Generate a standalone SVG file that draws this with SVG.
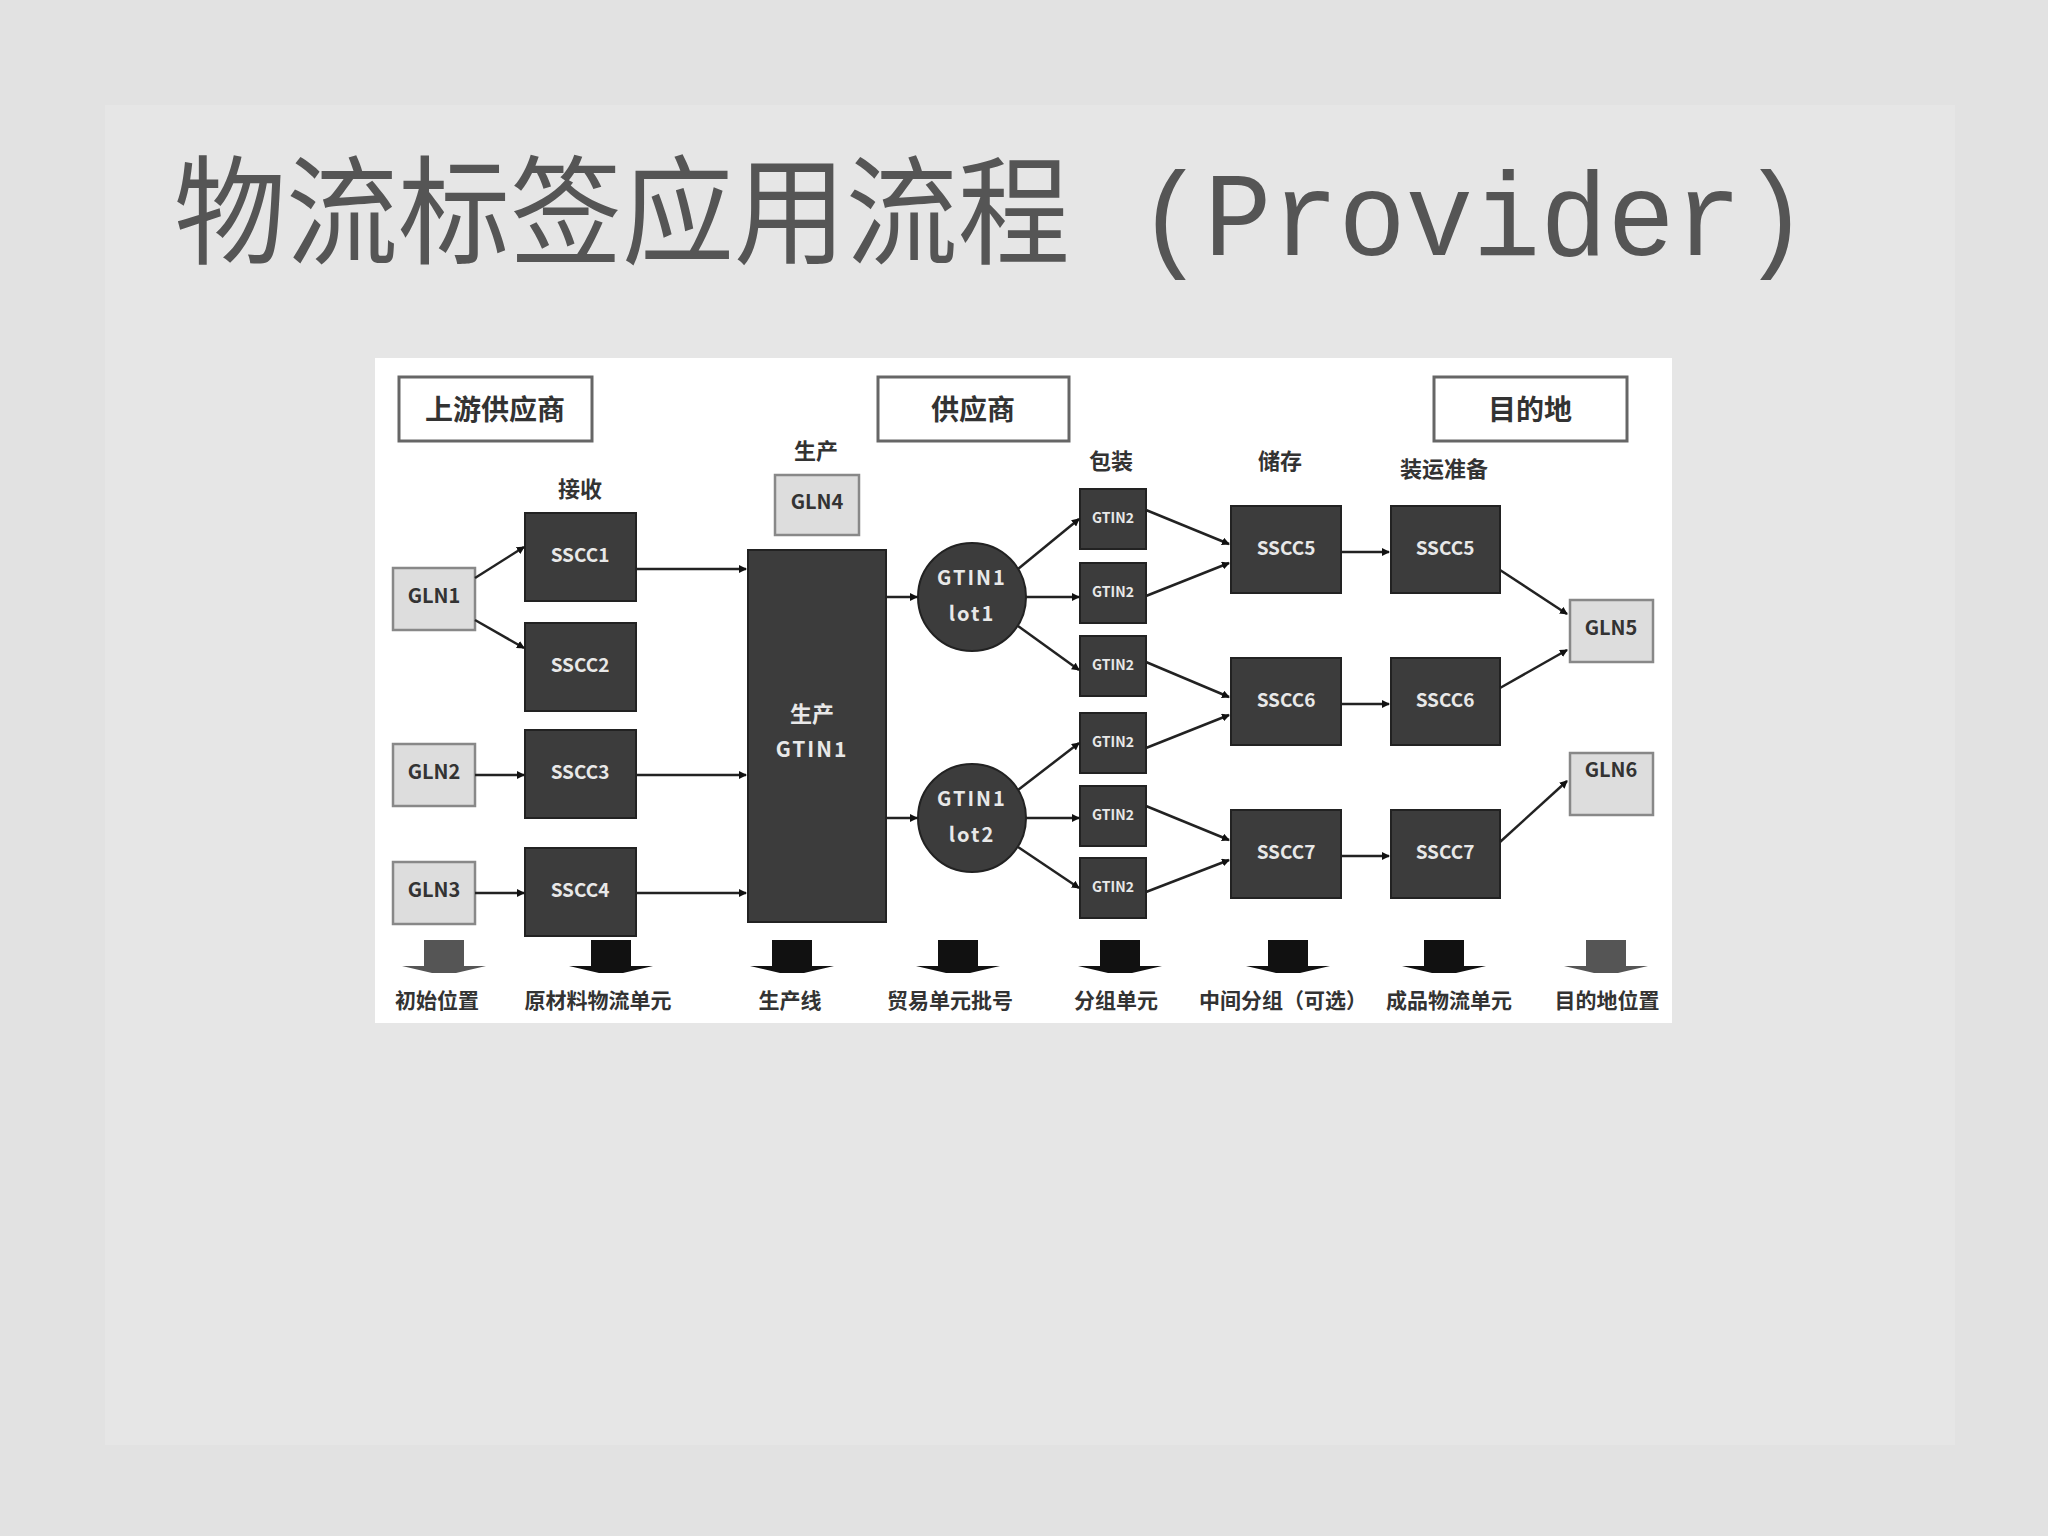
<svg xmlns="http://www.w3.org/2000/svg" width="2048" height="1536" viewBox="0 0 2048 1536">
<defs>
<marker id="ah" markerWidth="8" markerHeight="8" refX="7" refY="4" orient="auto" markerUnits="userSpaceOnUse"><path d="M0,0 L8,4 L0,8 z" fill="#111"/></marker>
<path id="dn" d="M-20,-22 h40 v26 h22 l-30,7 h-24 l-30,-7 h22 z"/>
</defs>
<style>
.hd{fill:#fff;stroke:#666;stroke-width:3}
.lt{fill:#ddd;stroke:#888;stroke-width:2.5}
.dk{fill:#3c3c3c;stroke:#222;stroke-width:2}
.t{font-family:"Noto Sans CJK SC","Liberation Sans",sans-serif;font-weight:bold;text-anchor:middle}
.w{fill:#e8e8e8}
.k{fill:#333}
.c line{stroke:#222;stroke-width:2.5;marker-end:url(#ah)}
</style>
<rect width="2048" height="1536" fill="#e2e2e2"/>
<rect x="105" y="105" width="1850" height="1340" fill="#e6e6e6"/>
<text x="174" y="255" font-family="'Liberation Mono','Noto Sans CJK SC',monospace" font-size="118" fill="#555" textLength="1635" lengthAdjust="spacingAndGlyphs">物流标签应用流程 (Provider)</text>
<rect x="375" y="358" width="1297" height="665" fill="#fff"/>

<g id="h1"><rect class="hd" x="399" y="377" width="193" height="64"/><text class="t k" x="495" y="420" font-size="28">上游供应商</text></g>
<g id="h2"><rect class="hd" x="878" y="377" width="191" height="64"/><text class="t k" x="973" y="420" font-size="28">供应商</text></g>
<g id="h3"><rect class="hd" x="1434" y="377" width="193" height="64"/><text class="t k" x="1530" y="420" font-size="28">目的地</text></g>

<g class="t k" font-size="22">
<text x="580" y="497">接收</text><text x="816" y="459">生产</text><text x="1111" y="469">包装</text><text x="1280" y="469">储存</text><text x="1444" y="477">装运准备</text>
</g>

<g id="gln1"><rect class="lt" x="393" y="568" width="82" height="62"/><text class="t k" x="434" y="598" font-size="20" dominant-baseline="middle">GLN1</text></g>
<g id="gln2"><rect class="lt" x="393" y="744" width="82" height="62"/><text class="t k" x="434" y="774" font-size="20" dominant-baseline="middle">GLN2</text></g>
<g id="gln3"><rect class="lt" x="393" y="862" width="82" height="62"/><text class="t k" x="434" y="892" font-size="20" dominant-baseline="middle">GLN3</text></g>
<g id="gln4"><rect class="lt" x="775" y="475" width="84" height="60"/><text class="t k" x="817" y="504" font-size="20" dominant-baseline="middle">GLN4</text></g>
<g id="gln5"><rect class="lt" x="1570" y="600" width="83" height="62"/><text class="t k" x="1611" y="630" font-size="20" dominant-baseline="middle">GLN5</text></g>
<g id="gln6"><rect class="lt" x="1570" y="753" width="83" height="62"/><text class="t k" x="1611" y="772" font-size="20" dominant-baseline="middle">GLN6</text></g>

<g id="sscc1"><rect class="dk" x="525" y="513" width="111" height="88"/><text class="t w" x="580" y="557" font-size="19" dominant-baseline="middle">SSCC1</text></g>
<g id="sscc2"><rect class="dk" x="525" y="623" width="111" height="88"/><text class="t w" x="580" y="667" font-size="19" dominant-baseline="middle">SSCC2</text></g>
<g id="sscc3"><rect class="dk" x="525" y="730" width="111" height="88"/><text class="t w" x="580" y="774" font-size="19" dominant-baseline="middle">SSCC3</text></g>
<g id="sscc4"><rect class="dk" x="525" y="848" width="111" height="88"/><text class="t w" x="580" y="892" font-size="19" dominant-baseline="middle">SSCC4</text></g>
<g id="prod"><rect class="dk" x="748" y="550" width="138" height="372"/><text class="t w" x="812" y="722" font-size="22">生产</text><text class="t w" x="812" y="757" font-size="21" letter-spacing="2">GTIN1</text></g>
<g id="lot1"><circle class="dk" cx="972" cy="597" r="54"/><text class="t w" x="972" y="580" font-size="20" letter-spacing="2" dominant-baseline="middle">GTIN1</text><text class="t w" x="972" y="616" font-size="20" letter-spacing="2" dominant-baseline="middle">lot1</text></g>
<g id="lot2"><circle class="dk" cx="972" cy="818" r="54"/><text class="t w" x="972" y="801" font-size="20" letter-spacing="2" dominant-baseline="middle">GTIN1</text><text class="t w" x="972" y="837" font-size="20" letter-spacing="2" dominant-baseline="middle">lot2</text></g>

<g id="g2a"><rect class="dk" x="1080" y="489" width="66" height="60"/><text class="t w" x="1113" y="519" font-size="14" dominant-baseline="middle">GTIN2</text></g>
<g id="g2b"><rect class="dk" x="1080" y="563" width="66" height="60"/><text class="t w" x="1113" y="593" font-size="14" dominant-baseline="middle">GTIN2</text></g>
<g id="g2c"><rect class="dk" x="1080" y="636" width="66" height="60"/><text class="t w" x="1113" y="666" font-size="14" dominant-baseline="middle">GTIN2</text></g>
<g id="g2d"><rect class="dk" x="1080" y="713" width="66" height="60"/><text class="t w" x="1113" y="743" font-size="14" dominant-baseline="middle">GTIN2</text></g>
<g id="g2e"><rect class="dk" x="1080" y="786" width="66" height="60"/><text class="t w" x="1113" y="816" font-size="14" dominant-baseline="middle">GTIN2</text></g>
<g id="g2f"><rect class="dk" x="1080" y="858" width="66" height="60"/><text class="t w" x="1113" y="888" font-size="14" dominant-baseline="middle">GTIN2</text></g>

<g id="sscc5"><rect class="dk" x="1231" y="506" width="110" height="87"/><text class="t w" x="1286" y="550" font-size="19" dominant-baseline="middle">SSCC5</text></g>
<g id="sscc6"><rect class="dk" x="1231" y="658" width="110" height="87"/><text class="t w" x="1286" y="702" font-size="19" dominant-baseline="middle">SSCC6</text></g>
<g id="sscc7"><rect class="dk" x="1231" y="810" width="110" height="88"/><text class="t w" x="1286" y="854" font-size="19" dominant-baseline="middle">SSCC7</text></g>
<g id="sscc5b"><rect class="dk" x="1391" y="506" width="109" height="87"/><text class="t w" x="1445" y="550" font-size="19" dominant-baseline="middle">SSCC5</text></g>
<g id="sscc6b"><rect class="dk" x="1391" y="658" width="109" height="87"/><text class="t w" x="1445" y="702" font-size="19" dominant-baseline="middle">SSCC6</text></g>
<g id="sscc7b"><rect class="dk" x="1391" y="810" width="109" height="88"/><text class="t w" x="1445" y="854" font-size="19" dominant-baseline="middle">SSCC7</text></g>

<g class="c">
<line x1="475" y1="578" x2="524" y2="547"/>
<line x1="475" y1="620" x2="524" y2="648"/>
<line x1="475" y1="775" x2="524" y2="775"/>
<line x1="475" y1="893" x2="524" y2="893"/>
<line x1="636" y1="569" x2="746" y2="569"/>
<line x1="636" y1="775" x2="746" y2="775"/>
<line x1="636" y1="893" x2="746" y2="893"/>
<line x1="886" y1="597" x2="917" y2="597"/>
<line x1="886" y1="818" x2="917" y2="818"/>
<line x1="1018" y1="569" x2="1079" y2="519"/>
<line x1="1026" y1="597" x2="1079" y2="597"/>
<line x1="1018" y1="626" x2="1079" y2="670"/>
<line x1="1018" y1="790" x2="1079" y2="743"/>
<line x1="1026" y1="818" x2="1079" y2="818"/>
<line x1="1018" y1="847" x2="1079" y2="888"/>
<line x1="1146" y1="510" x2="1229" y2="544"/>
<line x1="1146" y1="596" x2="1229" y2="563"/>
<line x1="1146" y1="662" x2="1229" y2="697"/>
<line x1="1146" y1="748" x2="1229" y2="715"/>
<line x1="1146" y1="806" x2="1229" y2="840"/>
<line x1="1146" y1="892" x2="1229" y2="860"/>
<line x1="1341" y1="552" x2="1389" y2="552"/>
<line x1="1341" y1="704" x2="1389" y2="704"/>
<line x1="1341" y1="856" x2="1389" y2="856"/>
<line x1="1500" y1="570" x2="1567" y2="614"/>
<line x1="1500" y1="688" x2="1567" y2="650"/>
<line x1="1500" y1="842" x2="1567" y2="781"/>
</g>

<g id="legend">
<use href="#dn" x="444" y="962" fill="#555"/>
<use href="#dn" x="611" y="962" fill="#111"/>
<use href="#dn" x="792" y="962" fill="#111"/>
<use href="#dn" x="958" y="962" fill="#111"/>
<use href="#dn" x="1120" y="962" fill="#111"/>
<use href="#dn" x="1288" y="962" fill="#111"/>
<use href="#dn" x="1444" y="962" fill="#111"/>
<use href="#dn" x="1606" y="962" fill="#555"/>
<g class="t k" font-size="21">
<text x="437" y="1008">初始位置</text>
<text x="598" y="1008">原材料物流单元</text>
<text x="790" y="1008">生产线</text>
<text x="950" y="1008">贸易单元批号</text>
<text x="1116" y="1008">分组单元</text>
<text x="1283" y="1008">中间分组（可选）</text>
<text x="1449" y="1008">成品物流单元</text>
<text x="1607" y="1008">目的地位置</text>
</g>
</g>
</svg>
